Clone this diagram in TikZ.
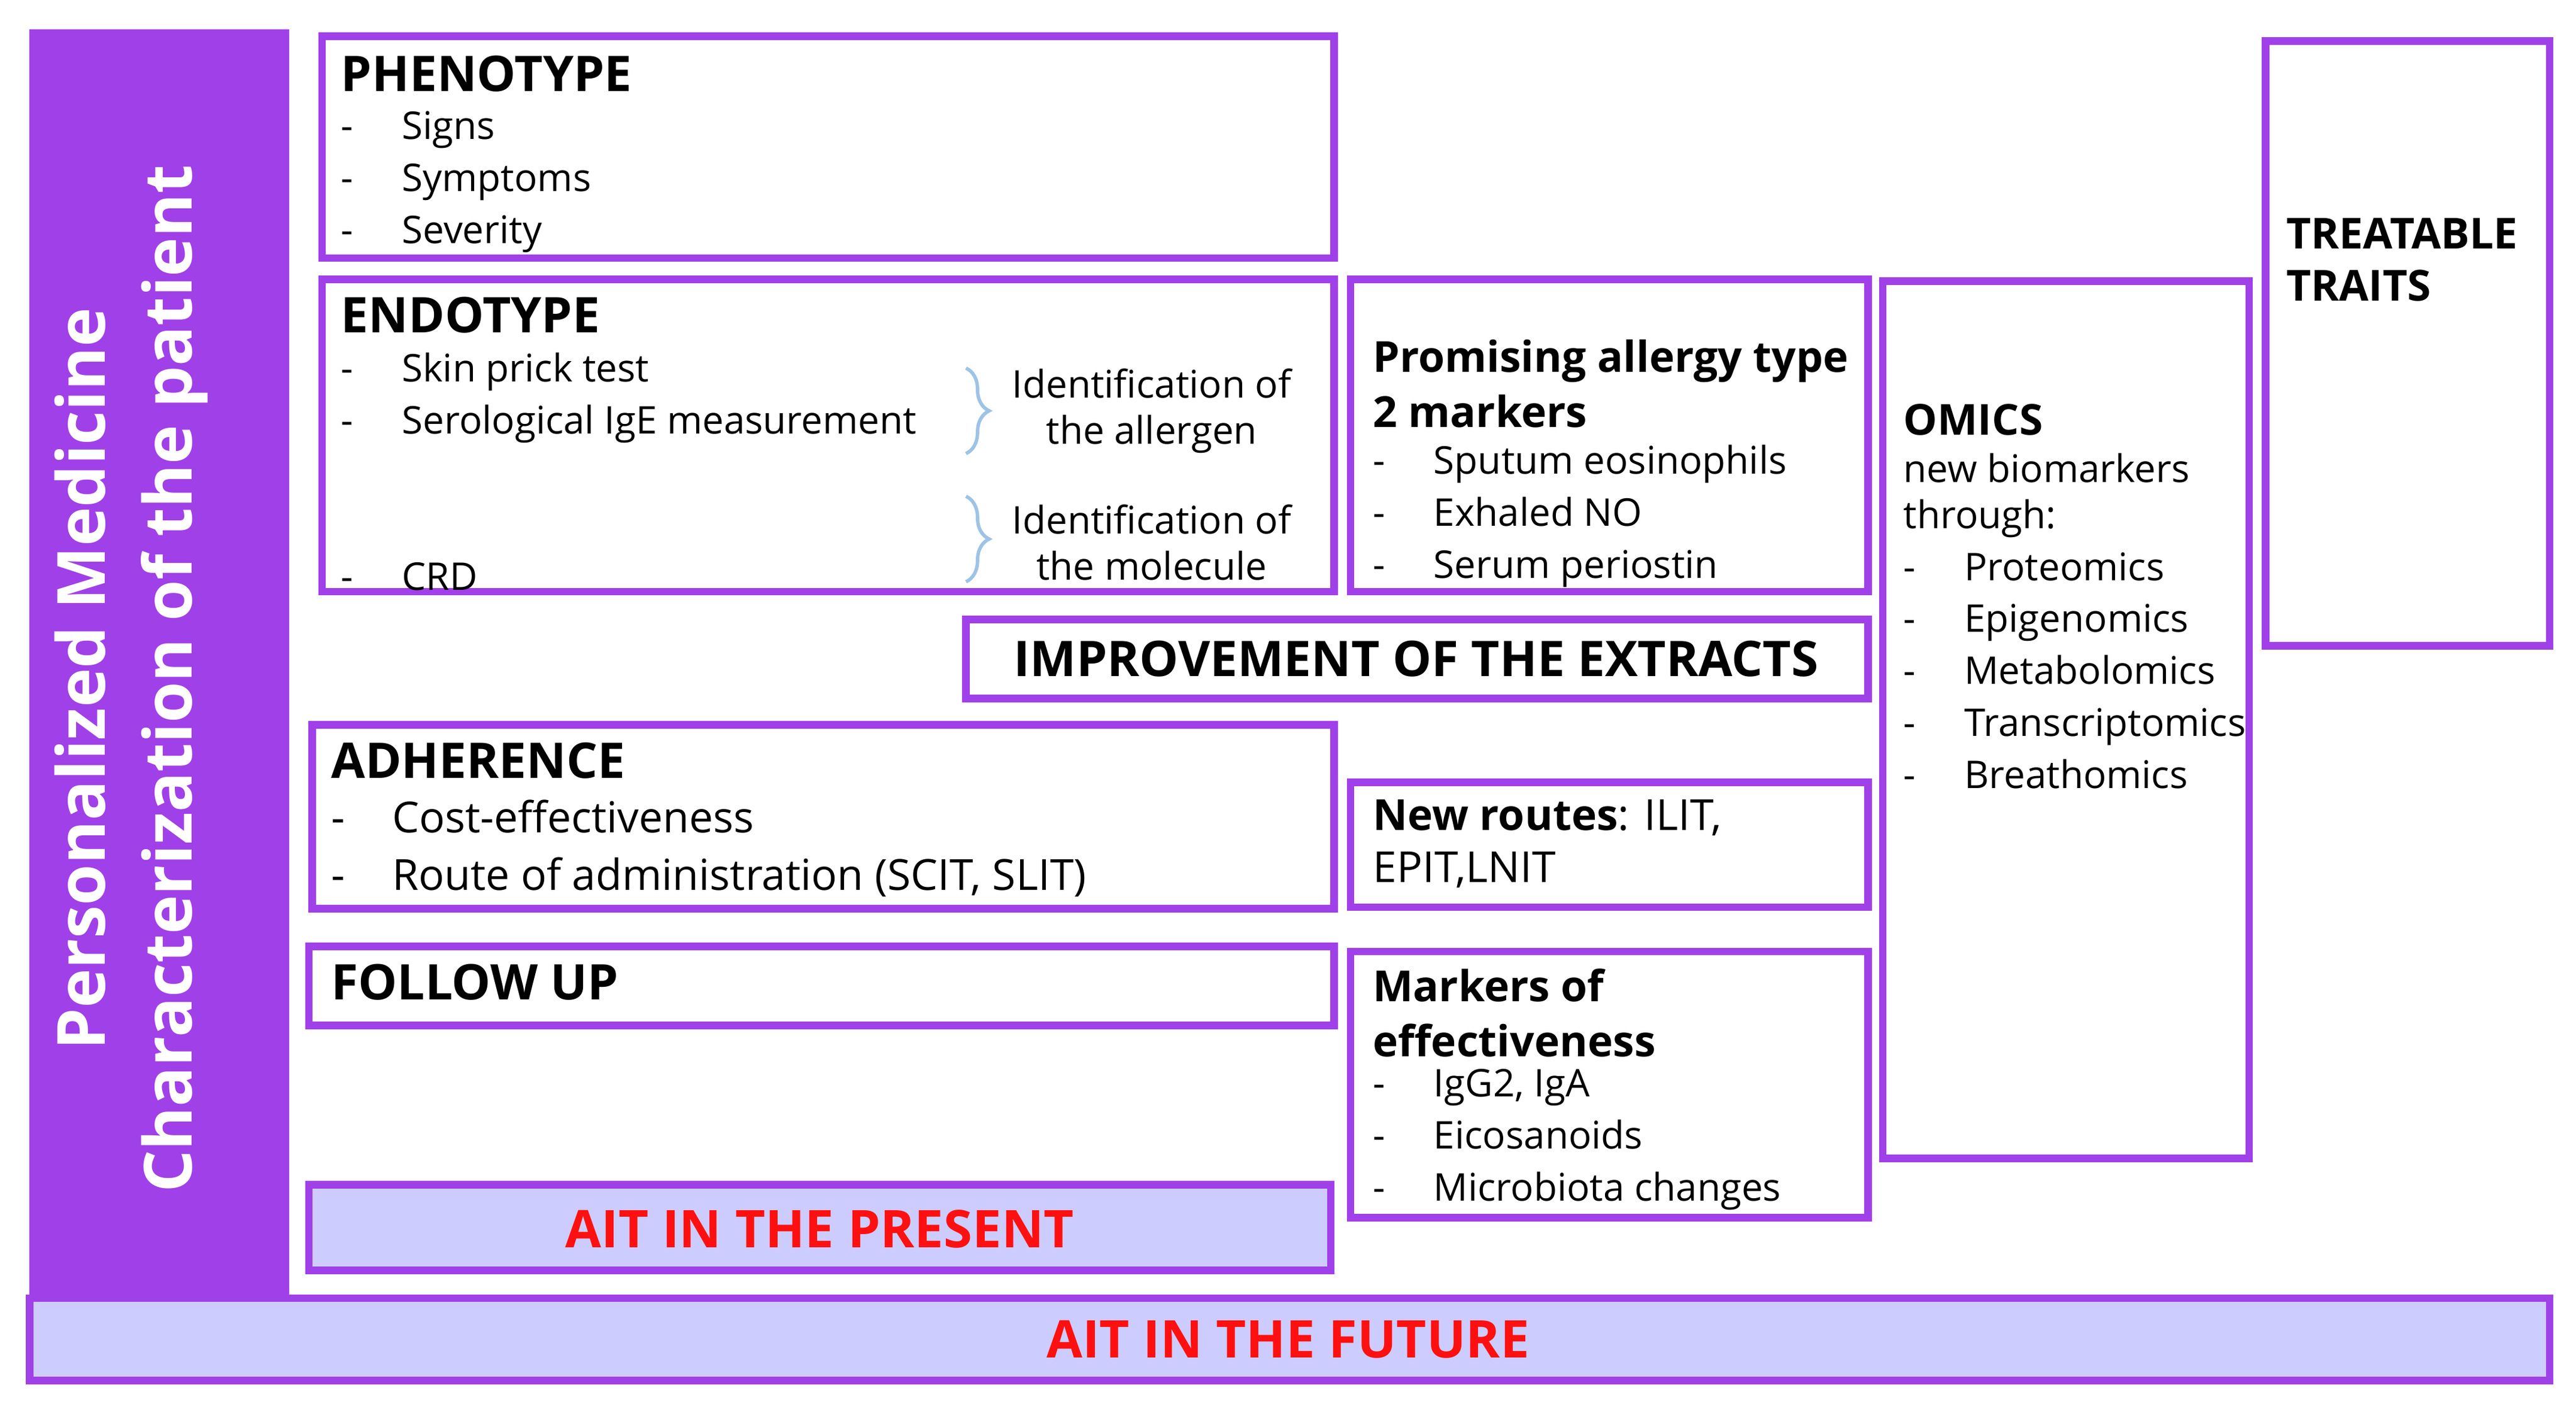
\documentclass[tikz,border=0pt]{standalone}
\usepackage{fontspec}
\setmainfont{Open Sans}
\usetikzlibrary{decorations.pathreplacing}
\definecolor{pur}{HTML}{A040E8}
\definecolor{lav}{HTML}{CCCCFF}
\definecolor{ared}{HTML}{FF1010}
\definecolor{brc}{HTML}{9DC3E6}
\newcommand\itm[1]{\makebox[0.37cm][l]{-}#1}
\tikzset{box/.style={draw=pur,line width=1.3pt},
 hd/.style={anchor=north west,font=\fontsize{8.5}{10}\selectfont\bfseries,inner sep=0pt},
 bd/.style={anchor=north west,font=\fontsize{6.6}{8}\selectfont,align=left,inner sep=0pt},
 lb/.style={font=\fontsize{6.6}{8}\selectfont,align=center,inner sep=0pt}}
\begin{document}
\begin{tikzpicture}[x=0.01cm,y=-0.01cm]
\useasboundingbox (0,0) rectangle (1568,859);
\fill[pur] (18,18) rectangle (176,788);
\node[rotate=90,text=white,font=\fontsize{11.5}{15}\selectfont\bfseries,align=center] (pm) at (80,413) {Personalized Medicine\\Characterization of the patient};
% phenotype
\draw[box] (196,22) rectangle (812,157);
\node[hd] (ph) at (207,33) {PHENOTYPE};
\node[bd] (phl) at (207,67) {\itm{Signs}\\[1pt]\itm{Symptoms}\\[1pt]\itm{Severity}};
% endotype
\draw[box] (196,170) rectangle (812,360);
\node[hd] (en) at (207,180) {ENDOTYPE};
\node[bd] (enl) at (207,214) {\itm{Skin prick test}\\[1pt]\itm{Serological IgE measurement}\\[19pt]\itm{CRD}};
\draw[brc,line width=0.6pt,decorate,decoration={brace,amplitude=4pt}] (588,224) -- (588,276);
\draw[brc,line width=0.6pt,decorate,decoration={brace,amplitude=4pt}] (588,302) -- (588,354);
\node[lb] (ia) at (701,250) {Identification of\\the allergen};
\node[lb] (im) at (701,330) {Identification of\\the molecule};
% promising
\draw[box] (822,170) rectangle (1137,360);
\node[hd,font=\fontsize{7.4}{9.5}\selectfont\bfseries,align=left] (pr) at (835,206) {Promising allergy type\\2 markers};
\node[bd] (prl) at (835,270) {\itm{Sputum eosinophils}\\[1pt]\itm{Exhaled NO}\\[1pt]\itm{Serum periostin}};
% omics
\draw[box] (1146,171) rectangle (1369,705);
\node[hd,font=\fontsize{7.4}{9}\selectfont\bfseries] (om) at (1158,245) {OMICS};
\node[bd] (oml) at (1158,275) {new biomarkers\\through:\\[1pt]\itm{Proteomics}\\[1pt]\itm{Epigenomics}\\[1pt]\itm{Metabolomics}\\[1pt]\itm{Transcriptomics}\\[1pt]\itm{Breathomics}};
% treatable
\draw[box] (1379,25) rectangle (1552,393);
\node[hd,font=\fontsize{7.4}{9}\selectfont\bfseries,align=left] (tt) at (1391,132) {TREATABLE\\TRAITS};
% improvement
\draw[box] (588,377) rectangle (1137,425);
\node[font=\fontsize{8.5}{10}\selectfont\bfseries] (ie) at (862,401) {IMPROVEMENT OF THE EXTRACTS};
% adherence
\draw[box] (190,441) rectangle (812,553);
\node[hd] (ad) at (201,451) {ADHERENCE};
\node[bd,font=\fontsize{7.4}{9}\selectfont] (adl) at (201,486) {\itm{Cost-effectiveness}\\[1pt]\itm{Route of administration (SCIT, SLIT)}};
% new routes
\draw[box] (822,476) rectangle (1137,552);
\node[bd,font=\fontsize{7.4}{9}\selectfont] (nr) at (835,486) {\textbf{New routes}: ILIT,\\EPIT,LNIT};
% follow up
\draw[box] (188,576) rectangle (812,624);
\node[hd] (fu) at (201,586) {FOLLOW UP};
% markers
\draw[box] (822,579) rectangle (1137,741);
\node[hd,font=\fontsize{7.4}{9.5}\selectfont\bfseries,align=left] (mk) at (835,589) {Markers of\\effectiveness};
\node[bd] (mkl) at (835,650) {\itm{IgG2, IgA}\\[1pt]\itm{Eicosanoids}\\[1pt]\itm{Microbiota changes}};
% AIT
\draw[box,fill=lav] (188,721) rectangle (810,773);
\node[text=ared,font=\fontsize{9}{11}\selectfont\bfseries] (ap) at (499,748) {AIT IN THE PRESENT};
\draw[box,fill=lav] (18,790) rectangle (1552,840);
\node[text=ared,font=\fontsize{9}{11}\selectfont\bfseries] (af) at (784,815) {AIT IN THE FUTURE};
\end{tikzpicture}
\end{document}
